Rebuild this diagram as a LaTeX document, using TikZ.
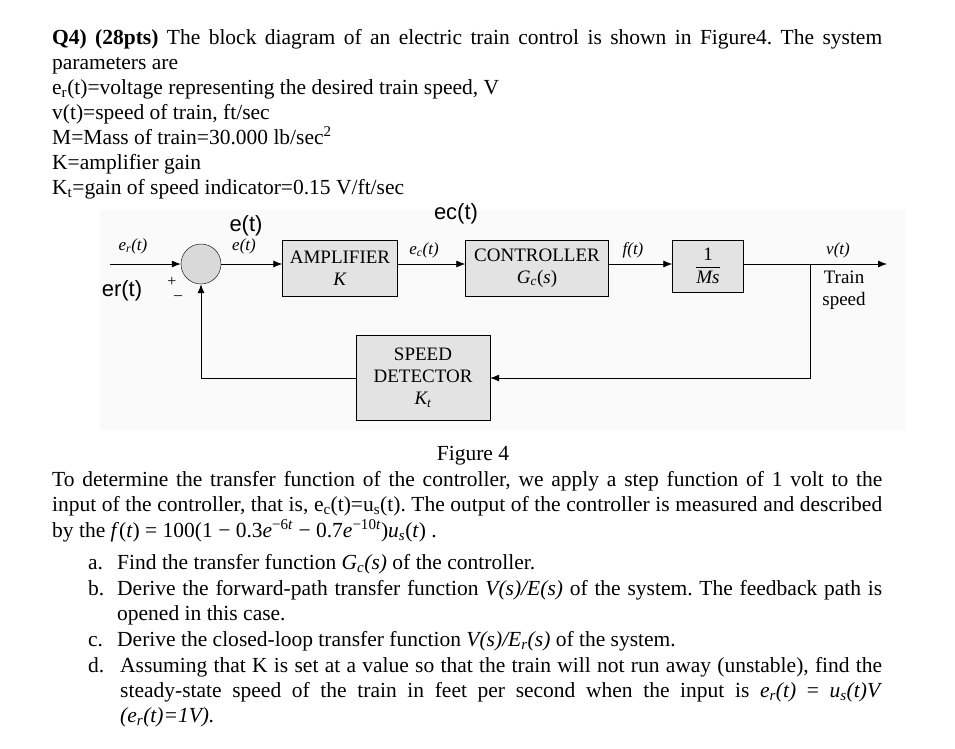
\documentclass[tikz,border=0pt]{standalone}
\usepackage{amsmath}
\usepackage{fontspec}
\setmainfont{Liberation Serif}
\newfontfamily\handfont{Liberation Sans}
\usetikzlibrary{positioning,arrows.meta}
\newcommand{\txtline}[3]{\node[anchor=base west,inner sep=0] at (#1,#2) {#3};}
\begin{document}
\frenchspacing
\begin{tikzpicture}
[x=1pt,y=-1pt,font=\fontsize{21.5}{25}\selectfont]
\tikzset{blk/.style={draw,fill=gray!22,minimum height=56pt,align=center,inner sep=2pt,font=\fontsize{19}{22}\selectfont},
  lbl/.style={font=\fontsize{17}{18}\selectfont\itshape,inner sep=1pt},
  hand/.style={font=\fontsize{22}{22}\handfont,inner sep=0},
  sig/.style={-{Latex[length=9pt,width=7pt]},line width=0.8pt}}
\useasboundingbox (0,0) rectangle (955,748);
\fill[white] (0,0) rectangle (955,748);

% question text
\node[anchor=base west,inner sep=0] at (52,44) {\makebox[830pt][s]{\textbf{Q4) (28pts)} The block diagram of an electric train control is shown in Figure4. The system}};
\txtline{52}{69}{parameters are}
\txtline{52}{94}{e\textsubscript{r}(t)=voltage representing the desired train speed, V}
\txtline{52}{119}{v(t)=speed of train, ft/sec}
\txtline{52}{144}{M=Mass of train=30.000 lb/sec\textsuperscript{2}}
\txtline{52}{169}{K=amplifier gain}
\txtline{52}{194}{K\textsubscript{t}=gain of speed indicator=0.15 V/ft/sec}

% block diagram
\fill[gray!4] (100,210) rectangle (905,430);
\node[circle,draw,fill=gray!30,minimum size=40pt,inner sep=0] (sum) at (201,264) {};
\node[blk,minimum width=115pt] (amp) at (340,268) {AMPLIFIER\\ \textit{K}};
\node[blk,minimum width=143pt] (ctrl) at (537,268) {CONTROLLER\\ \textit{G\textsubscript{c}}(\textit{s})};
\node[blk,minimum width=71pt,minimum height=52pt] (plant) at (708,266) {$\dfrac{\text{1}}{\text{\itshape Ms}}$};
\node[blk,minimum width=134pt,minimum height=85pt] (det) at (423,378) {SPEED\\DETECTOR\\ \textit{K\textsubscript{t}}};
\coordinate (in) at (110,264);
\coordinate (out) at (887,264);
\coordinate (br) at (810,264);

\draw[sig] (in) -- (sum);
\draw[sig] (sum) -- (sum -| amp.west);
\draw[sig] (amp.east |- sum) -- (ctrl.west |- sum);
\draw[sig] (ctrl.east |- sum) -- (plant.west |- sum);
\draw[sig] (plant.east |- sum) -- (out);
\draw[sig] (br) |- (det.east);
\draw[sig] (det.west) -| (sum.south);

\node[lbl] at (133,246) {e\textsubscript{r}(t)};
\node[lbl] at (244,246) {e(t)};
\node[lbl] at (424,250) {e\textsubscript{c}(t)};
\node[lbl] at (633,250) {f(t)};
\node[lbl] at (838,250) {v(t)};
\node[font=\fontsize{19}{22}\selectfont,align=center] at (844,290) {Train\\speed};
\node[font=\fontsize{16}{16}\selectfont,inner sep=0] at (172,282) {+};
\node[font=\fontsize{16}{16}\selectfont,inner sep=0] at (178,296) {\_};
\node[hand] at (246,226) {e(t)};
\node[hand] at (456,214) {ec(t)};
\node[hand] at (122,291) {er(t)};

% remaining text
\node[inner sep=0] at (473,456) {Figure 4};
\node[anchor=base west,inner sep=0] at (52,486) {\makebox[830pt][s]{To determine the transfer function of the controller, we apply a step function of 1 volt to the}};
\node[anchor=base west,inner sep=0] at (52,511) {\makebox[830pt][s]{input of the controller, that is, e\textsubscript{c}(t)=u\textsubscript{s}(t). The output of the controller is measured and described}};
\txtline{52}{537}{by the \textit{f}(\textit{t}) = 100(1 − 0.3\textit{e}\textsuperscript{−6\textit{t}} − 0.7\textit{e}\textsuperscript{−10\textit{t}})\textit{u\textsubscript{s}}(\textit{t}) .}
\txtline{88}{569}{a.}
\txtline{117}{569}{Find the transfer function \textit{G\textsubscript{c}(s)} of the controller.}
\txtline{88}{595}{b.}
\node[anchor=base west,inner sep=0] at (117,595) {\makebox[765pt][s]{Derive the forward-path transfer function \textit{V(s)/E(s)} of the system. The feedback path is}};
\txtline{117}{620}{opened in this case.}
\txtline{88}{646}{c.}
\txtline{117}{646}{Derive the closed-loop transfer function \textit{V(s)/E\textsubscript{r}(s)} of the system.}
\txtline{88}{672}{d.}
\node[anchor=base west,inner sep=0] at (120,672) {\makebox[762pt][s]{Assuming that K is set at a value so that the train will not run away (unstable), find the}};
\node[anchor=base west,inner sep=0] at (120,697) {\makebox[762pt][s]{steady-state speed of the train in feet per second when the input is \textit{e\textsubscript{r}(t)} = \textit{u\textsubscript{s}(t)V}}};
\txtline{120}{722}{\textit{(e\textsubscript{r}(t)=1V).}}
\end{tikzpicture}
\end{document}
